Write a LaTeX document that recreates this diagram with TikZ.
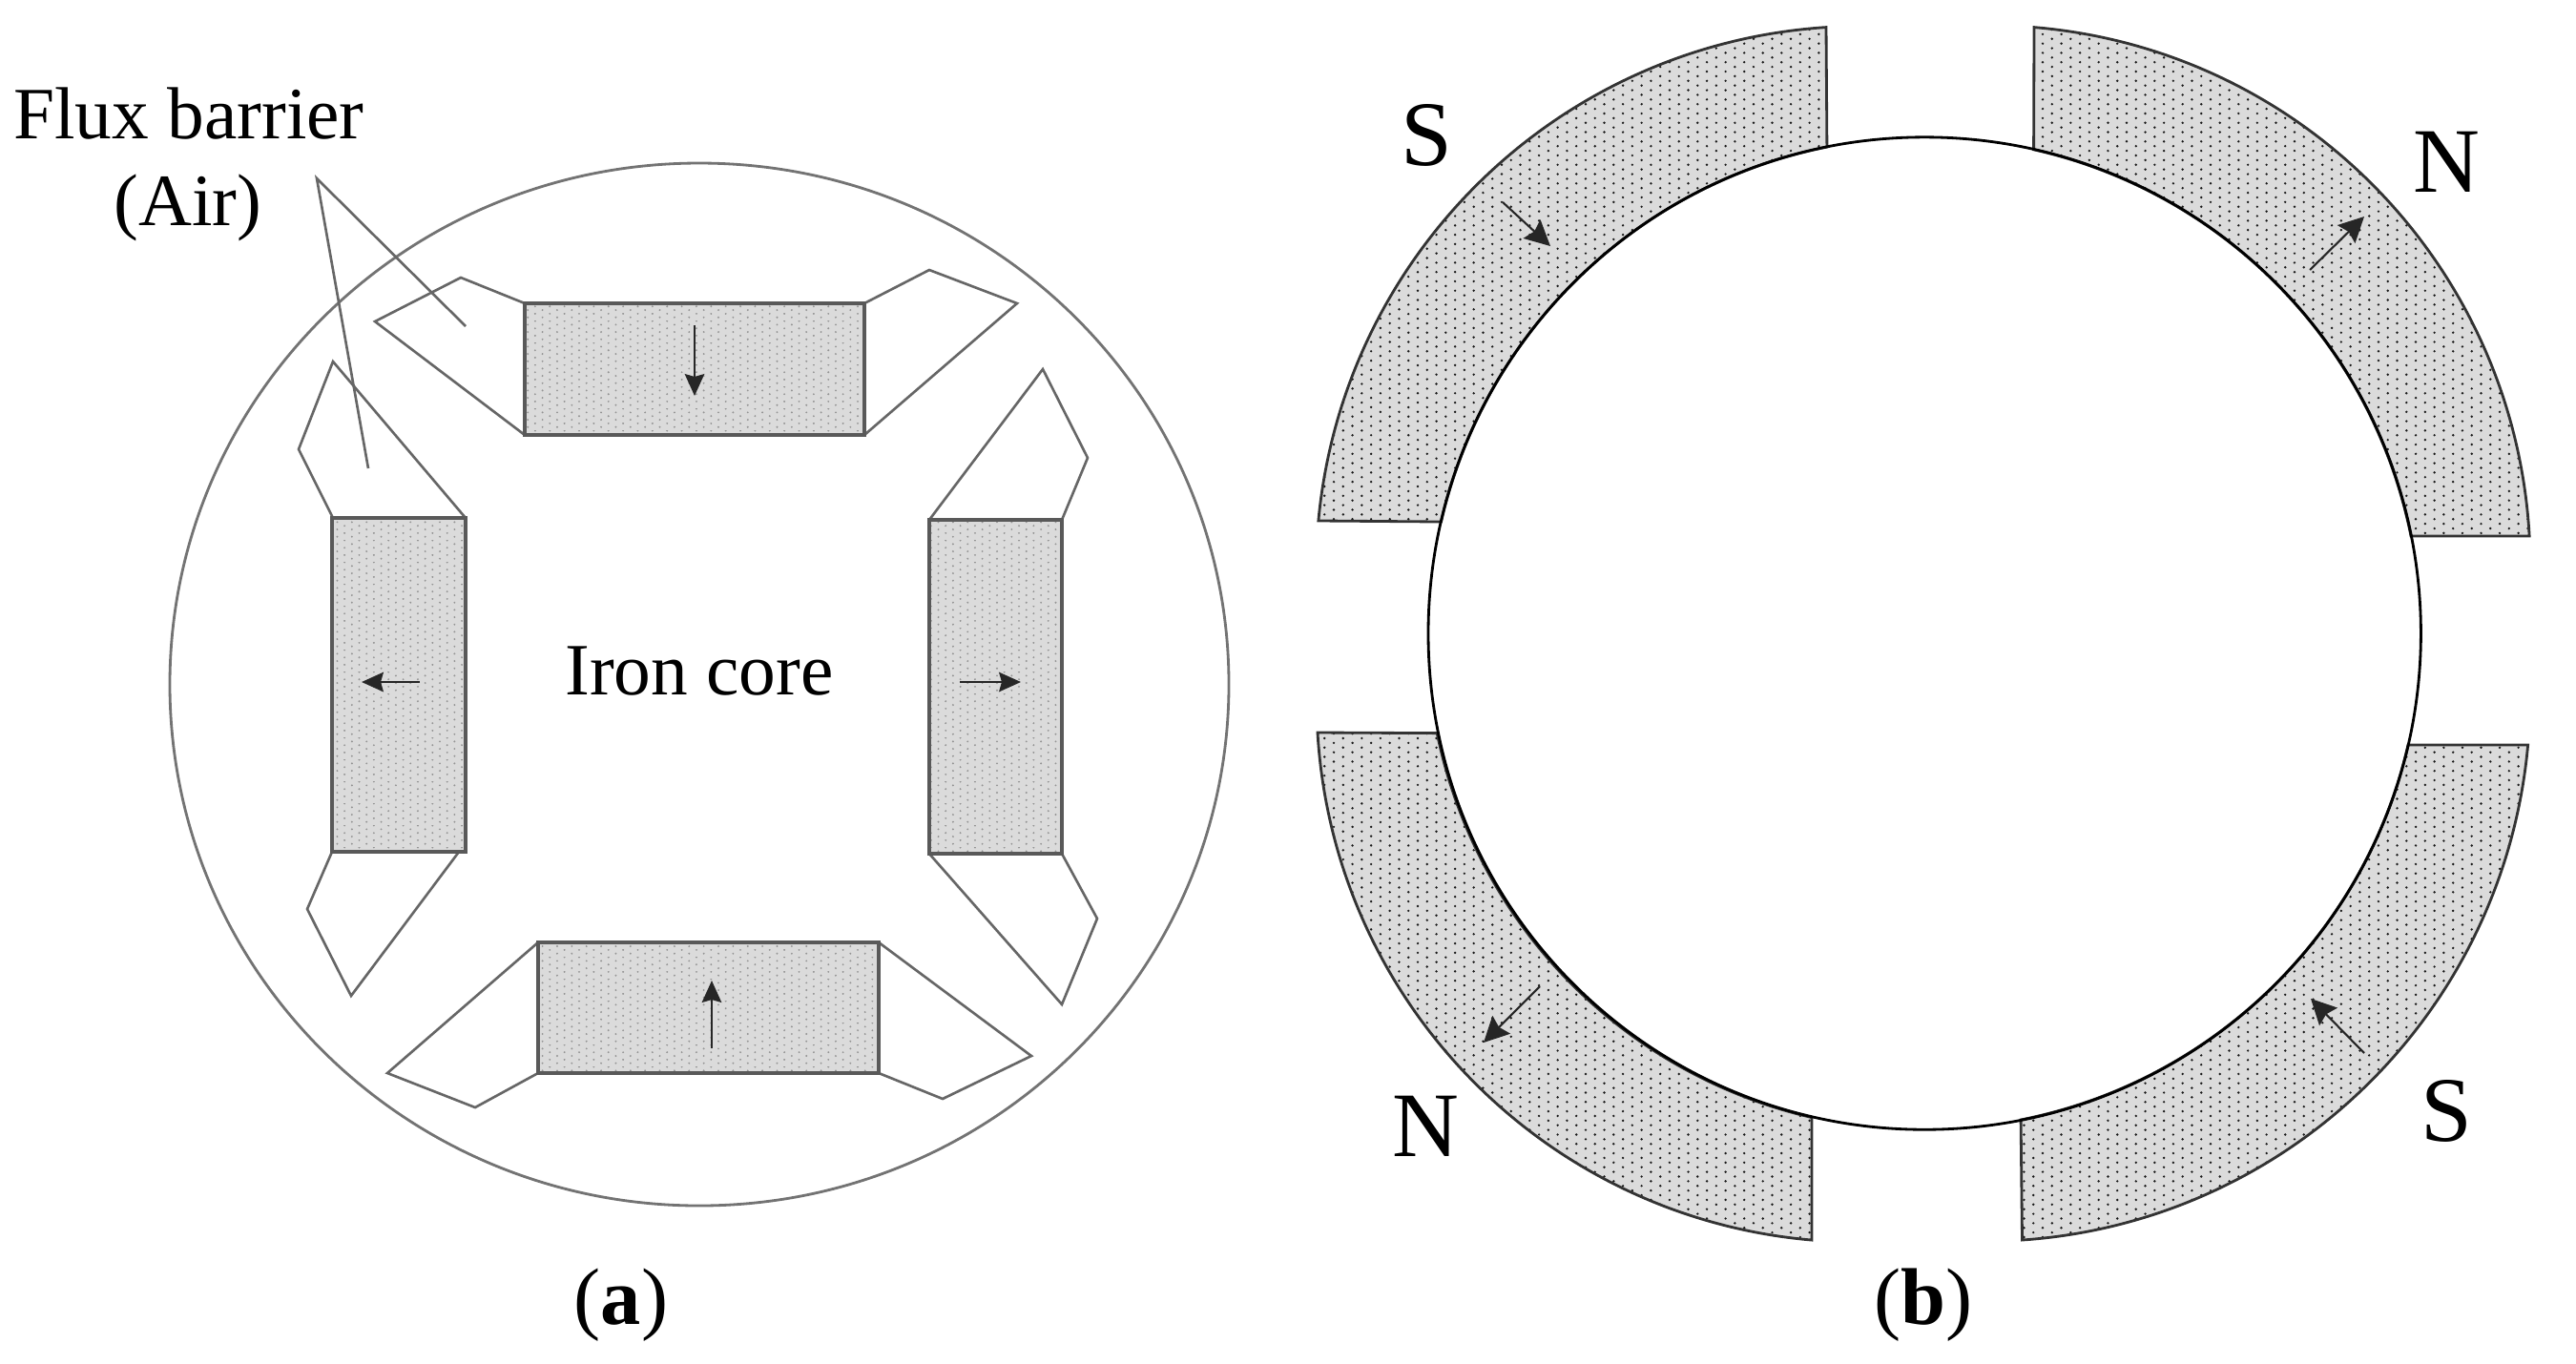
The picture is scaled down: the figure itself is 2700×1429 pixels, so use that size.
\documentclass[tikz,border=0pt]{standalone}
\usepackage{fontspec}
\setmainfont{Liberation Serif}
\usetikzlibrary{arrows.meta,patterns}

\definecolor{magnetgray}{gray}{0.86}

% staggered dots, fine for the rotor and coarse for the ring
\pgfdeclarepatternformonly{finedots}{\pgfqpoint{-1pt}{-1pt}}{\pgfqpoint{3.37pt}{1.18pt}}{\pgfqpoint{4.37pt}{2.18pt}}{
  \pgfpathcircle{\pgfqpoint{0pt}{0pt}}{0.3pt}
  \pgfpathcircle{\pgfqpoint{2.18pt}{1.09pt}}{0.3pt}
  \pgfusepath{fill}
}
\pgfdeclarepatternformonly{coarsedots}{\pgfqpoint{-1pt}{-1pt}}{\pgfqpoint{4.56pt}{1.78pt}}{\pgfqpoint{5.56pt}{2.78pt}}{
  \pgfpathcircle{\pgfqpoint{0pt}{0pt}}{0.38pt}
  \pgfpathcircle{\pgfqpoint{2.78pt}{1.39pt}}{0.38pt}
  \pgfusepath{fill}
}

\begin{document}
\begin{tikzpicture}
  [x=0.01cm,y=-0.01cm,
   outline/.style={draw=black!55,line width=0.8pt},
   barrier/.style={draw=black!60,line width=0.75pt},
   block/.style={draw=black!65,line width=1pt,preaction={fill=magnetgray},pattern=finedots,pattern color=black!42},
   arcmag/.style={draw=black!80,line width=0.8pt,preaction={fill=magnetgray},pattern=coarsedots,pattern color=black!90},
   flux/.style={line width=0.7pt,draw=black!85,-{Stealth[length=6.5pt,width=5.8pt,inset=0.8pt]}},
   ringflux/.style={line width=0.6pt,draw=black!85,-{Stealth[length=7.5pt,width=7.5pt,inset=1pt]}},
   every node/.style={inner sep=0pt,anchor=base},
   small/.style={font=\fontsize{22}{26}\selectfont},
   pole/.style={font=\fontsize{27.5}{32}\selectfont},
   caption/.style={font=\fontsize{24}{30}\selectfont}]
  \useasboundingbox (0,0) rectangle (2700,1429);

  % (a) rotor
  \draw[outline] (733,717.5) ellipse [x radius=555,y radius=546.5];

  \draw[barrier] (550,318) -- (483,291) -- (393,337) -- (550,456);
  \draw[barrier] (906,318) -- (974,283) -- (1066,318) -- (906,456);
  \draw[barrier] (349,543) -- (313,471) -- (349,379) -- (488,543);
  \draw[barrier] (348,893) -- (322,953) -- (368,1044) -- (481,893);
  \draw[barrier] (974,545) -- (1093,387) -- (1140,480) -- (1113,545);
  \draw[barrier] (974,895) -- (1113,1053) -- (1150,963) -- (1113,895);
  \draw[barrier] (564,988) -- (406,1125) -- (498,1161) -- (564,1125);
  \draw[barrier] (921,988) -- (1081,1107) -- (988,1152) -- (921,1125);

  \draw[block] (550,318) rectangle (906,456);
  \draw[block] (348,543) rectangle (488,893);
  \draw[block] (974,545) rectangle (1113,895);
  \draw[block] (564,988) rectangle (921,1125);

  \draw[flux] (728,341) -- (728,415);
  \draw[flux] (440,715) -- (379,715);
  \draw[flux] (1006,715) -- (1070,715);
  \draw[flux] (746,1099) -- (746,1028);

  \node[small] (flux) at (198,145) {Flux barrier};
  \node[small] (air) at (197,236) {(Air)};
  \node[small] (iron) at (733,728) {Iron core};

  \coordinate (apex) at (332,187);
  \coordinate (top) at (488,342);
  \coordinate (left) at (386,491);
  \draw[barrier] (top) -- (apex) -- (left);

  % (b) ring
  \draw[arcmag] (1914,28.6) arc [start angle=266.29,end angle=185.32,radius=571.6]
    -- (1510.5,547) arc [start angle=193,end angle=258.64,radius=520.2] -- cycle;
  \draw[arcmag] (2132,28.6) arc [start angle=274.77,end angle=356.79,radius=567.2]
    -- (2527,562) arc [start angle=348.67,end angle=282.73,radius=520.2] -- cycle;
  \draw[arcmag] (1381,768) arc [start angle=176.62,end angle=94.91,radius=567.6]
    -- (1899,1171.5) arc [start angle=102.99,end angle=168.47,radius=520.2] -- cycle;
  \draw[arcmag] (2119.5,1300) arc [start angle=86.06,end angle=5.15,radius=571.7]
    -- (2524,781) arc [start angle=13.04,end angle=78.82,radius=520.2] -- cycle;

  \draw[draw=black,line width=0.8pt] (2017.2,664) circle [radius=520.2];

  \draw[ringflux] (1575,212) -- (1625,258);
  \draw[ringflux] (2421,283) -- (2478,227);
  \draw[ringflux] (1614,1034) -- (1555,1093);
  \draw[ringflux] (2478,1104) -- (2422,1047);

  \node[pole] (s1) at (1495,173) {S};
  \node[pole] (n1) at (2564,201) {N};
  \node[pole] (n2) at (1494,1212) {N};
  \node[pole] (s2) at (2564,1196) {S};

  \node[caption] (capa) at (651,1388) {(\textbf{a})};
  \node[caption] (capb) at (2016,1388) {(\textbf{b})};
\end{tikzpicture}
\end{document}
